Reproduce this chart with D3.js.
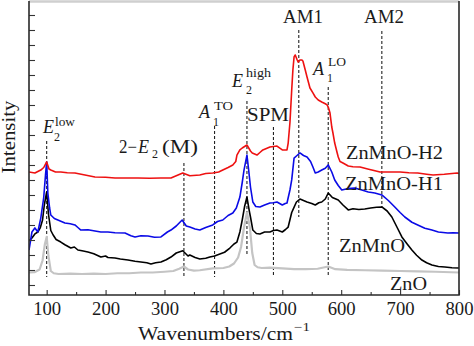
<!DOCTYPE html>
<html>
<head>
<meta charset="utf-8">
<script src="https://d3js.org/d3.v7.min.js"></script>
<style>
  body { margin: 0; background: #fff; }
  svg text { font-family: "Liberation Serif", "Times New Roman", serif; fill: #1a1a1a; }
</style>
</head>
<body>
<div id="chart_div"></div>
<script>
// ticks (wavenumber in cm^-1)
const xTicks = [100, 200, 300, 400, 500, 600, 700, 800];
const xMinorTicks = [150, 250, 350, 450, 550, 650, 750];

// ZnO
const znoWn = [70, 80, 88, 93, 97, 100, 103, 107, 112, 120, 140, 160, 180, 200, 220, 240, 260, 280, 300, 315, 325, 333, 340, 350, 360, 382, 400, 410, 418, 425, 430, 435, 440, 445, 449, 453, 458, 465, 479, 500, 520, 540, 560, 578, 590, 610, 640, 670, 700, 730, 760, 800];
const znoI = [1.5, 1.53, 1.7, 2.3, 3.4, 3.87, 2.6, 1.6, 1.45, 1.4, 1.43, 1.4, 1.42, 1.4, 1.45, 1.45, 1.5, 1.5, 1.55, 1.6, 1.75, 1.9, 1.7, 1.62, 1.65, 1.78, 1.8, 1.9, 2.1, 2.5, 3.2, 4.5, 5.5, 4.5, 2.8, 2.0, 1.85, 1.8, 1.83, 1.78, 1.72, 1.72, 1.75, 1.9, 1.72, 1.67, 1.65, 1.63, 1.6, 1.57, 1.55, 1.5];

// ZnMnO
const znmnoWn = [70, 75, 80, 85, 89, 93, 96, 100, 103, 107, 111, 116, 124, 131, 141, 147, 153, 160, 170, 180, 192, 200, 204, 216, 225, 238, 250, 260, 270, 277, 285, 294, 303, 311, 320, 331, 340, 343, 352, 360, 370, 377, 385, 394, 402, 411, 418, 423, 428, 432, 436, 440, 444, 446, 450, 456, 462, 470, 479, 485, 491, 500, 505, 510, 516, 518, 524, 530, 536, 542, 550, 556, 562, 567, 573, 578, 585, 595, 603, 612, 620, 630, 640, 650, 660, 669, 678, 686, 695, 703, 712, 720, 728, 737, 745, 754, 765, 776, 788, 800];
const znmnoI = [3.6, 3.8, 4.07, 4.2, 4.47, 5.0, 6.0, 6.87, 5.4, 4.3, 4.0, 3.7, 3.53, 3.35, 3.13, 3.2, 3.0, 2.95, 2.87, 2.75, 2.53, 2.6, 2.5, 2.47, 2.4, 2.33, 2.25, 2.2, 2.15, 2.07, 2.15, 2.2, 2.35, 2.53, 2.8, 2.95, 2.6, 2.67, 2.5, 2.4, 2.45, 2.53, 2.6, 2.73, 2.85, 3.13, 3.4, 3.53, 4.2, 5.0, 5.9, 6.53, 5.6, 5.2, 4.33, 4.1, 4.07, 4.2, 4.2, 4.3, 4.33, 4.2, 4.35, 4.53, 5.5, 5.67, 6.2, 6.4, 6.3, 6.2, 6.1, 6.0, 6.15, 6.2, 6.4, 6.8, 6.5, 6.33, 6.0, 5.67, 5.75, 5.7, 5.73, 5.8, 5.85, 5.87, 5.6, 5.2, 4.5, 3.87, 3.4, 3.0, 2.65, 2.33, 2.15, 2.0, 1.9, 1.87, 1.82, 1.8];

// ZnMnO-H1
const h1Wn = [70, 75, 80, 85, 90, 95, 98, 100, 102, 105, 107, 113, 119, 125, 131, 140, 148, 153, 158, 170, 182, 192, 204, 216, 233, 243, 250, 260, 272, 283, 294, 305, 311, 320, 330, 337, 343, 352, 360, 370, 382, 390, 399, 408, 416, 422, 428, 432, 435, 440, 443, 446, 450, 455, 462, 470, 479, 485, 491, 500, 505, 508, 513, 516, 520, 525, 530, 536, 542, 548, 552, 556, 561, 567, 573, 578, 584, 589, 595, 601, 612, 623, 635, 646, 657, 669, 680, 691, 700, 708, 720, 730, 742, 754, 765, 781, 790, 800];
const h1I = [3.0, 4.2, 4.47, 4.2, 5.13, 6.5, 8.0, 8.87, 6.8, 5.8, 5.33, 5.1, 5.0, 4.9, 4.8, 4.75, 4.67, 4.5, 4.33, 4.35, 4.27, 4.2, 4.2, 4.15, 4.13, 3.95, 3.87, 3.95, 3.93, 3.85, 3.87, 4.2, 4.33, 4.6, 5.0, 4.6, 4.53, 4.4, 4.33, 4.5, 4.67, 4.9, 5.0, 5.3, 5.47, 5.8, 6.53, 7.5, 8.33, 9.33, 8.3, 7.2, 6.2, 5.9, 5.87, 6.0, 6.13, 6.15, 6.2, 6.0, 6.1, 6.13, 7.0, 7.67, 9.13, 9.3, 9.47, 9.3, 9.2, 8.9, 8.53, 8.13, 8.2, 8.33, 8.45, 8.67, 8.2, 7.67, 7.3, 7.0, 7.1, 7.13, 7.0, 6.87, 6.8, 6.67, 6.3, 5.87, 5.5, 5.2, 4.85, 4.67, 4.45, 4.33, 4.2, 4.13, 4.15, 4.13];

// ZnMnO-H2
const h2Wn = [70, 80, 90, 95, 100, 104, 107, 115, 124, 135, 148, 165, 182, 200, 216, 235, 255, 275, 294, 311, 320, 331, 343, 360, 370, 382, 392, 399, 408, 416, 421, 423, 428, 432, 440, 446, 449, 457, 462, 467, 479, 491, 500, 508, 510, 513, 516, 518, 520, 522, 525, 527, 530, 533, 535, 539, 542, 547, 552, 556, 561, 567, 573, 576, 578, 581, 584, 586, 589, 593, 595, 598, 603, 612, 620, 632, 645, 666, 685, 700, 715, 730, 745, 756, 775, 797, 800];
const h2I = [8.2, 8.13, 8.33, 8.5, 8.87, 8.4, 8.33, 8.2, 8.2, 8.15, 8.13, 8.0, 7.87, 7.85, 7.8, 7.8, 7.8, 7.78, 7.8, 7.8, 7.95, 8.13, 7.95, 8.0, 8.1, 8.13, 8.2, 8.33, 8.5, 8.67, 8.9, 9.33, 9.67, 9.8, 10.0, 9.6, 9.47, 9.33, 9.5, 9.67, 9.87, 9.93, 9.67, 9.67, 10.13, 11.5, 13.67, 15.0, 15.87, 16.0, 15.7, 15.53, 15.67, 15.67, 15.6, 15.0, 14.53, 13.8, 13.47, 13.2, 13.0, 12.87, 12.75, 12.67, 12.53, 12.13, 11.2, 10.8, 10.13, 9.5, 9.2, 8.9, 8.8, 8.6, 8.55, 8.53, 8.4, 8.2, 8.2, 8.2, 8.15, 8.13, 8.05, 8.0, 8.05, 8.13, 8.1];

// dashed mode markers
const modeWn = [100, 333, 385, 440, 485, 528, 578, 669];
const modeTop = [10.27, 8.8, 11.27, 12.93, 11.2, 17.67, 13.87, 17.6];
const modeBottom = [1.2, 1.2, 1.2, 2.67, 1.2, 5.2, 1.33, 5.8];

const series = [
  { name: "ZnO", wn: znoWn, val: znoI, color: "#c4c4c4", w: 2.2 },
  { name: "ZnMnO", wn: znmnoWn, val: znmnoI, color: "#000000", w: 1.6 },
  { name: "ZnMnO-H1", wn: h1Wn, val: h1I, color: "#0a0ae6", w: 1.6 },
  { name: "ZnMnO-H2", wn: h2Wn, val: h2I, color: "#ee1111", w: 1.6 }
];

const W = 474, H = 346;
const pLeft = 29, pRight = 459, pTop = 1, pBottom = 295;

const svg = d3.select("#chart_div").append("svg")
  .attr("width", W)
  .attr("height", H);

const x = d3.scaleLinear().domain([70, 800]).range([pLeft, pRight]);
const y = d3.scaleLinear().domain([0, 19.6]).range([pBottom, pTop]);

svg.append("clipPath").attr("id", "clip")
  .append("rect")
  .attr("x", pLeft).attr("y", pTop)
  .attr("width", pRight - pLeft).attr("height", pBottom - pTop);

// dashed markers
svg.append("g")
  .selectAll("line")
  .data(modeWn).enter()
  .append("line")
  .attr("x1", d => x(d)).attr("x2", d => x(d))
  .attr("y1", (d, i) => y(modeTop[i]))
  .attr("y2", (d, i) => y(modeBottom[i]))
  .attr("stroke", "#222")
  .attr("stroke-width", 1.1)
  .attr("stroke-dasharray", "3,2");

// spectra
const line = d3.line()
  .x(d => x(d[0]))
  .y(d => y(d[1]));

svg.append("g")
  .attr("clip-path", "url(#clip)")
  .selectAll("path")
  .data(series).enter()
  .append("path")
  .attr("d", s => line(s.wn.map((w, i) => [w, s.val[i]])))
  .attr("fill", "none")
  .attr("stroke", s => s.color)
  .attr("stroke-width", s => s.w)
  .attr("stroke-linejoin", "round");

// axes
const xAxis = svg.append("g")
  .attr("transform", "translate(0," + pBottom + ")")
  .call(d3.axisBottom(x).tickValues(xTicks).tickSizeInner(-5).tickSizeOuter(0).tickPadding(7));
xAxis.select(".domain").remove();
xAxis.selectAll("text")
  .attr("font-size", 18)
  .attr("font-family", "Liberation Serif")
  .attr("textLength", 28)
  .attr("lengthAdjust", "spacingAndGlyphs")
  .attr("fill", "#1a1a1a");
xAxis.selectAll("line").attr("stroke", "#333").attr("stroke-width", 1.1);

const xMinor = svg.append("g")
  .attr("transform", "translate(0," + pBottom + ")")
  .call(d3.axisBottom(x).tickValues(xMinorTicks).tickSizeInner(-3).tickSizeOuter(0).tickFormat(""));
xMinor.select(".domain").remove();
xMinor.selectAll("line").attr("stroke", "#333").attr("stroke-width", 1.1);

const yAxis = svg.append("g")
  .attr("transform", "translate(" + pLeft + ",0)")
  .call(d3.axisLeft(y).tickValues(d3.range(2 / 3, 19.6, 1)).tickSizeInner(-6).tickSizeOuter(0).tickFormat(""));
yAxis.select(".domain").remove();
yAxis.selectAll("line").attr("stroke", "#333").attr("stroke-width", 1.1);

// frame
svg.append("line").attr("x1", pLeft).attr("x2", pRight).attr("y1", pTop + 0.5).attr("y2", pTop + 0.5)
  .attr("stroke", "#cfcfcf").attr("stroke-width", 2.5);
svg.append("path")
  .attr("d", "M" + pLeft + "," + pTop + "V" + pBottom + "H" + pRight + "V" + pTop)
  .attr("fill", "none")
  .attr("stroke", "#2a2a2a")
  .attr("stroke-width", 1.6);

// text helper
function txt(str, px, py, size, opts) {
  opts = opts || {};
  const t = svg.append("text")
    .attr("x", px).attr("y", py)
    .attr("font-size", size)
    .text(str);
  if (opts.italic) t.attr("font-style", "italic");
  if (opts.len) t.attr("textLength", opts.len).attr("lengthAdjust", "spacingAndGlyphs");
  if (opts.rotate) t.attr("transform", "rotate(-90," + px + "," + py + ")").attr("text-anchor", "middle");
  return t;
}

// mode labels
txt("E", 43, 133, 18, { italic: true });
txt("2", 54, 141, 12);
txt("low", 55, 126, 12, { len: 20 });

txt("2\u2212", 119, 153, 18, { len: 18 });
txt("E", 138, 153, 18, { italic: true });
txt("2", 152, 158, 12);
txt("(M)", 162, 153, 18, { len: 36 });

txt("A", 199, 118, 18, { italic: true });
txt("1", 213, 126, 12);
txt("TO", 214, 110, 12, { len: 19 });

txt("E", 232, 87, 18, { italic: true });
txt("2", 246, 94, 12);
txt("high", 246, 77, 12, { len: 25 });

txt("SPM", 247, 121, 18, { len: 42 });
txt("AM1", 283, 23, 18, { len: 40 });
txt("AM2", 364, 23, 18, { len: 40 });

txt("A", 313, 75, 18, { italic: true });
txt("1", 327, 82, 12);
txt("LO", 328, 66, 12, { len: 18 });

// sample labels
txt("ZnMnO-H2", 346, 159, 18, { len: 97 });
txt("ZnMnO-H1", 345, 190, 18, { len: 98 });
txt("ZnMnO", 339, 252, 18, { len: 66 });
txt("ZnO", 390, 290, 18, { len: 37 });

// axis titles
txt("Wavenumbers/cm", 138, 340, 18, { len: 155 });
txt("\u22121", 294, 331, 12, { len: 16 });
txt("Intensity", 15, 137, 18, { rotate: true, len: 73 });
</script>
</body>
</html>
